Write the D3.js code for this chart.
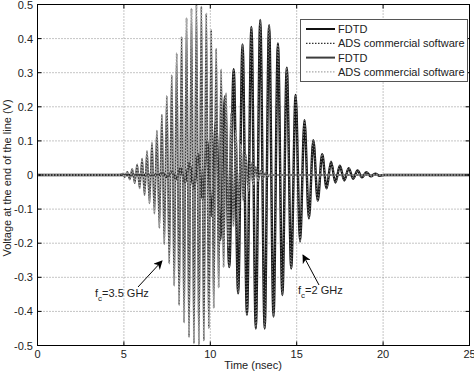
<!DOCTYPE html>
<html>
<head>
<meta charset="utf-8">
<script src="https://cdn.jsdelivr.net/npm/d3@7"></script>
<style>
  html, body { margin: 0; padding: 0; background: #fff; }
  svg { display: block; font-family: "Liberation Sans", Arial, sans-serif; }
</style>
</head>
<body>
<div id="chart"></div>
<script>
// axis ticks
const xTicks = [0, 5, 10, 15, 20, 25];
const yTicks = [-0.5, -0.4, -0.3, -0.2, -0.1, 0, 0.1, 0.2, 0.3, 0.4, 0.5];

// fc = 2 GHz pulse: successive extremes (V)
const start2GHz = 7.258;      // ns, first extreme
const halfCycle2GHz = 0.256;  // ns between extremes
const peaks2GHz = [
    0.005, -0.006, 0.01, -0.012, 0.02, -0.022, 0.035, -0.04, 0.06, -0.07,
    0.1, -0.12, 0.16, -0.19, 0.23, -0.27, 0.31, -0.347, 0.383, -0.41,
    0.434, -0.45, 0.455, -0.45, 0.439, -0.415, 0.386, -0.352, 0.315, -0.274,
    0.235, -0.195, 0.161, -0.127, 0.102, -0.075, 0.061, -0.039, 0.039, -0.022,
    0.027, -0.016, 0.02, -0.011, 0.013, -0.007, 0.008, -0.004, 0.004, -0.002
];

// fc = 3.5 GHz pulse: successive extremes (V)
const start35GHz = 4.91;
const halfCycle35GHz = 0.1429;
const peaks35GHz = [
    0.004, -0.006, 0.009, -0.013, 0.018, -0.024, 0.031, -0.039, 0.048, -0.059,
    0.07, -0.083, 0.095, -0.113, 0.13, -0.155, 0.177, -0.203, 0.232, -0.26,
    0.293, -0.325, 0.357, -0.381, 0.405, -0.433, 0.46, -0.476, 0.488, -0.494,
    0.5, -0.498, 0.494, -0.486, 0.474, -0.45, 0.425, -0.39, 0.37, -0.33,
    0.31, -0.27, 0.24, -0.21, 0.18, -0.15, 0.13, -0.11, 0.09, -0.075,
    0.06, -0.048, 0.038, -0.03, 0.023, -0.017, 0.012, -0.009, 0.006, -0.004, 0.002
];

const legendLabels = ["FDTD", "ADS commercial software", "FDTD", "ADS commercial software"];

document.addEventListener('DOMContentLoaded', function() {
    const width = 474;
    const height = 372;
    const left = 37.5, right = 469.5, top = 4.5, bottom = 345.5;

    const svg = d3.select("#chart")
        .append("svg")
        .attr("width", width)
        .attr("height", height);

    const x = d3.scaleLinear().domain([0, 25]).range([left, right]);
    const y = d3.scaleLinear().domain([-0.5, 0.5]).range([bottom, top]);

    // grid
    svg.append("g").selectAll("line")
        .data(xTicks.slice(1, -1))
        .enter().append("line")
        .attr("x1", d => x(d)).attr("x2", d => x(d))
        .attr("y1", top).attr("y2", bottom)
        .style("stroke", "#8a8a8a").style("stroke-width", 1)
        .style("stroke-dasharray", "1,2");
    svg.append("g").selectAll("line")
        .data(yTicks.slice(1, -1))
        .enter().append("line")
        .attr("x1", left).attr("x2", right)
        .attr("y1", d => y(d)).attr("y2", d => y(d))
        .style("stroke", "#8a8a8a").style("stroke-width", 1)
        .style("stroke-dasharray", "1,2");

    // turn the list of extremes into a line
    function signal(peaks, t0, half) {
        const pts = [[0, 0], [t0 - half, 0]];
        peaks.forEach((v, i) => pts.push([t0 + i * half, v]));
        pts.push([t0 + peaks.length * half, 0]);
        pts.push([25, 0]);
        return pts;
    }

    const line = d3.line()
        .x(d => x(d[0]))
        .y(d => y(d[1]))
        .curve(d3.curveMonotoneX);

    const s2 = signal(peaks2GHz, start2GHz, halfCycle2GHz);
    const s35 = signal(peaks35GHz, start35GHz, halfCycle35GHz);

    const styles = [
        { stroke: "#111", width: 2.4, dash: null },
        { stroke: "#707070", width: 1.3, dash: "1.5,1.5" },
        { stroke: "#3c3c3c", width: 1.7, dash: null },
        { stroke: "#a8a8a8", width: 1.5, dash: "1.5,1.5" }
    ];

    const plot = svg.append("g");
    [s2, s2, s35, s35].forEach((s, i) => {
        plot.append("path")
            .attr("d", line(s))
            .style("fill", "none")
            .style("stroke", styles[i].stroke)
            .style("stroke-width", styles[i].width)
            .style("stroke-dasharray", styles[i].dash);
    });

    // axes box and inward ticks
    svg.append("rect")
        .attr("x", left).attr("y", top)
        .attr("width", right - left).attr("height", bottom - top)
        .style("fill", "none").style("stroke", "#000").style("stroke-width", 1);

    const tk = 4;
    svg.append("g").selectAll("line")
        .data(xTicks.flatMap(d => [[d, bottom, bottom - tk], [d, top, top + tk]]))
        .enter().append("line")
        .attr("x1", d => x(d[0])).attr("x2", d => x(d[0]))
        .attr("y1", d => d[1]).attr("y2", d => d[2])
        .style("stroke", "#000");
    svg.append("g").selectAll("line")
        .data(yTicks.flatMap(d => [[d, left, left + tk], [d, right, right - tk]]))
        .enter().append("line")
        .attr("y1", d => y(d[0])).attr("y2", d => y(d[0]))
        .attr("x1", d => d[1]).attr("x2", d => d[2])
        .style("stroke", "#000");

    svg.append("g").selectAll("text")
        .data(xTicks)
        .enter().append("text")
        .attr("x", d => x(d)).attr("y", 358)
        .attr("text-anchor", "middle")
        .style("font-size", "11px").style("fill", "#222")
        .text(d => d);

    svg.append("g").selectAll("text")
        .data(yTicks)
        .enter().append("text")
        .attr("x", 33).attr("y", d => y(d) + 4)
        .attr("text-anchor", "end")
        .style("font-size", "11px").style("fill", "#222")
        .text(d => d);

    svg.append("text")
        .attr("x", 253).attr("y", 369)
        .attr("text-anchor", "middle")
        .style("font-size", "11px").style("fill", "#222")
        .text("Time (nsec)");

    svg.append("text")
        .attr("transform", "translate(11,178) rotate(-90)")
        .attr("text-anchor", "middle")
        .style("font-size", "11px").style("fill", "#222")
        .text("Voltage at the end of the line (V)");

    // legend
    const lg = svg.append("g");
    lg.append("rect")
        .attr("x", 300.5).attr("y", 19.5).attr("width", 167).attr("height", 62)
        .style("fill", "#fff").style("stroke", "#555").style("stroke-width", 1);
    legendLabels.forEach((lab, i) => {
        const yy = 29 + i * 14.3;
        lg.append("line")
            .attr("x1", 306).attr("x2", 335).attr("y1", yy).attr("y2", yy)
            .style("stroke", i === 1 ? "#333" : styles[i].stroke)
            .style("stroke-width", styles[i].dash ? 1.3 : 2)
            .style("stroke-dasharray", styles[i].dash);
        lg.append("text")
            .attr("x", 338).attr("y", yy + 4)
            .style("font-size", "11px").style("fill", "#222")
            .text(lab);
    });

    // annotations
    svg.append("defs").append("marker")
        .attr("id", "head")
        .attr("viewBox", "0 0 10 10")
        .attr("refX", 9).attr("refY", 5)
        .attr("markerWidth", 9).attr("markerHeight", 9)
        .attr("markerUnits", "userSpaceOnUse")
        .attr("orient", "auto")
        .append("path")
        .attr("d", "M0,0L10,5L0,10L3,5Z")
        .style("fill", "#000");

    function note(tx, ty, label, ax1, ay1, ax2, ay2) {
        const t = svg.append("text")
            .attr("x", tx).attr("y", ty)
            .style("font-size", "11px").style("fill", "#222");
        t.append("tspan").text("f");
        t.append("tspan").attr("dy", 4).style("font-size", "8px").text("c");
        t.append("tspan").attr("dy", -4).text(label);
        svg.append("line")
            .attr("x1", ax1).attr("y1", ay1).attr("x2", ax2).attr("y2", ay2)
            .style("stroke", "#000").style("stroke-width", 1)
            .attr("marker-end", "url(#head)");
    }
    note(95, 297, "=3.5 GHz", 138, 287, 162, 261);
    note(298, 294, "=2 GHz", 319, 285, 303, 255);
});
</script>
</body>
</html>
